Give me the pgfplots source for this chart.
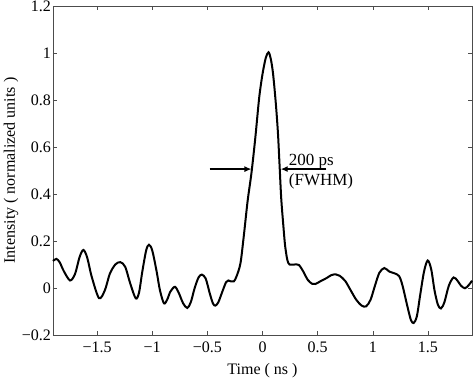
\documentclass[border=0pt]{standalone}
\usepackage{fontspec}
\setmainfont{Liberation Serif}
\usepackage{pgfplots}
\pgfplotsset{compat=1.18}
\usetikzlibrary{arrows.meta}
\begin{document}
\begin{tikzpicture}
\begin{axis}[
  name=ax,
  scale only axis,
  width=419pt, height=329pt,
  xmin=-1.9, xmax=1.9, ymin=-0.2, ymax=1.2,
  xtick={-1.5,-1,-0.5,0,0.5,1,1.5},
  xticklabels={−1.5,−1,−0.5,0,0.5,1,1.5},
  ytick={-0.2,0,0.2,0.4,0.6,0.8,1,1.2},
  yticklabels={−0.2,0,0.2,0.4,0.6,0.8,1,1.2},
  tick align=inside,
  major tick length=4pt,
  tick style={black!70, line width=0.5pt},
  axis line style={black!70, line width=0.6pt},
  ticklabel style={font=\fontsize{16}{18}\selectfont},
  yticklabel style={inner sep=2pt},
  xticklabel style={inner sep=2pt, yshift=-5pt},
  label style={font=\fontsize{16}{18}\selectfont},
  xlabel={Time ( ns )},
  ylabel={Intensity ( normalized units )},
  xlabel style={at={(axis description cs:0.5,0)}, anchor=north, yshift=-25pt},
  ylabel style={at={(axis description cs:-0.126,0.5)}, anchor=north},
  clip=false,
]
\addplot[black, line width=2pt, smooth, tension=0.5] coordinates {
(-1.9,0.115) (-1.87,0.124) (-1.84,0.11) (-1.80,0.07) (-1.745,0.032)
(-1.70,0.06) (-1.66,0.13) (-1.625,0.162) (-1.59,0.13) (-1.55,0.05)
(-1.483,-0.043) (-1.43,-0.01) (-1.385,0.06) (-1.335,0.1) (-1.289,0.11)
(-1.245,0.09) (-1.2,0.02) (-1.15,-0.044) (-1.12,-0.02) (-1.09,0.07)
(-1.055,0.16) (-1.03,0.184) (-1.0,0.16) (-0.96,0.07) (-0.93,-0.01)
(-0.894,-0.065) (-0.865,-0.05) (-0.835,-0.015) (-0.794,0.005) (-0.76,-0.02)
(-0.72,-0.065) (-0.682,-0.085) (-0.65,-0.06) (-0.615,0.0) (-0.58,0.045)
(-0.55,0.057) (-0.515,0.04) (-0.48,-0.02) (-0.45,-0.065) (-0.428,-0.075)
(-0.4,-0.06) (-0.36,-0.01) (-0.33,0.025) (-0.31,0.032) (-0.285,0.028)
(-0.26,0.028) (-0.235,0.05) (-0.2,0.105) (-0.17,0.22) (-0.135,0.37)
(-0.1,0.49) (-0.065,0.64) (-0.03,0.81) (0.0,0.91) (0.03,0.98)
(0.055,1.003) (0.075,0.975) (0.095,0.915) (0.12,0.79) (0.14,0.66)
(0.155,0.52) (0.17,0.38) (0.19,0.26) (0.205,0.18) (0.225,0.12)
(0.245,0.1) (0.29,0.1) (0.33,0.098) (0.37,0.07) (0.41,0.035)
(0.45,0.018) (0.48,0.017) (0.53,0.03) (0.58,0.042) (0.625,0.055)
(0.665,0.058) (0.7,0.052) (0.75,0.03) (0.8,-0.01) (0.85,-0.05)
(0.9,-0.075) (0.94,-0.078) (0.98,-0.05) (1.02,0.01) (1.06,0.065)
(1.105,0.085) (1.15,0.07) (1.2,0.062) (1.24,0.05) (1.27,0.01)
(1.31,-0.07) (1.345,-0.135) (1.371,-0.149) (1.4,-0.12) (1.43,-0.03)
(1.465,0.07) (1.498,0.117) (1.53,0.08) (1.56,-0.01) (1.59,-0.07)
(1.618,-0.087) (1.65,-0.06) (1.69,0.01) (1.733,0.045) (1.77,0.03)
(1.8,0.01) (1.836,-0.001) (1.87,0.012) (1.9,0.031)
};
\draw[line width=1.2pt, -{Latex[length=7pt,width=6pt]}] (axis cs:-0.48,0.506) -- (axis cs:-0.1,0.506);
\draw[line width=1.2pt, -{Latex[length=7pt,width=6pt]}] (axis cs:0.58,0.506) -- (axis cs:0.165,0.506);
\node[anchor=base west, inner sep=0pt, font=\fontsize{17}{19}\selectfont] at (axis cs:0.238,0.523) {200 ps};
\node[anchor=base west, inner sep=0pt, font=\fontsize{17}{19}\selectfont] at (axis cs:0.238,0.435) {(FWHM)};
\end{axis}
\pgfresetboundingbox
\path ([shift={(-53pt,-46pt)}]ax.south west) rectangle ([shift={(2pt,6pt)}]ax.north east);
\end{tikzpicture}
\end{document}
